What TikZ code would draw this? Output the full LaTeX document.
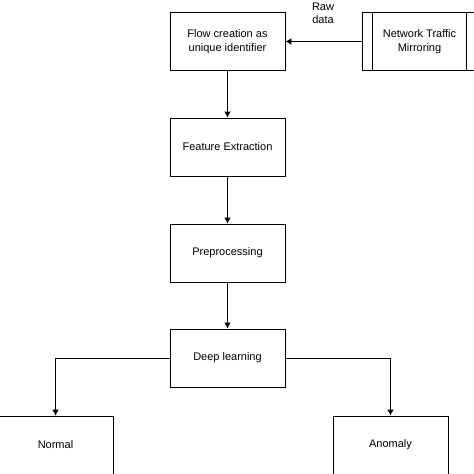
\documentclass[tikz,border=0pt]{standalone}
\usepackage{fontspec}
\setmainfont{Liberation Sans}
\usetikzlibrary{arrows.meta}

\begin{document}
\begin{tikzpicture}[x=1pt,y=-1pt,
  box/.style={draw,line width=0.8pt,minimum width=115pt,minimum height=58pt,
    align=center,font=\fontsize{11}{13.5}\selectfont},
  arr/.style={-{Latex[length=6pt,width=6.5pt]},line width=0.8pt}]
\useasboundingbox (0,0) rectangle (474,474);

\node[box] (flow) at (227.5,41.5) {Flow creation as\\unique identifier};
\node[box] (feat) at (227.5,147) {Feature Extraction};
\node[box] (prep) at (227.5,253) {Preprocessing};
\node[box] (deep) at (227.5,358) {Deep learning};

\node[box] (mirror) at (419.5,41.5) {Network Traffic\\Mirroring};
\draw[line width=0.8pt] ([xshift=11pt]mirror.north west) -- ([xshift=11pt]mirror.south west);
\draw[line width=0.8pt] ([xshift=-11pt]mirror.north east) -- ([xshift=-11pt]mirror.south east);
\node[align=center,font=\fontsize{11}{13.5}\selectfont] (raw) at (323,13.5) {Raw\\data};

\node[box] (normal) at (55.5,445) {Normal};
\node[box] (anomaly) at (390.5,445) {Anomaly};

\draw[arr] (mirror.west) -- (flow.east);
\draw[arr] (flow) -- (feat);
\draw[arr] (feat) -- (prep);
\draw[arr] (prep) -- (deep);
\draw[arr] (deep.west) -| (normal.north);
\draw[arr] (deep.east) -| (anomaly.north);
\end{tikzpicture}
\end{document}
